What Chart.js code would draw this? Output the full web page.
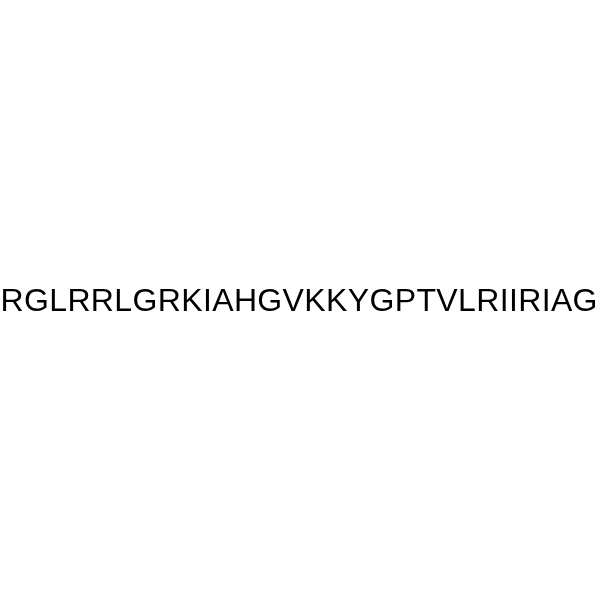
<!DOCTYPE html>
<html>
<head>
<meta charset="utf-8">
<script src="https://cdn.jsdelivr.net/npm/chart.js@4"></script>
<style>
  html, body { margin: 0; padding: 0; background: #fff; }
</style>
</head>
<body>
<canvas id="myChart" width="600" height="600"></canvas>
<script>
// peptide sequence, one residue per entry
const residues = ['R','G','L','R','R','L','G','R','K','I','A','H','G','V','K','K','Y','G','P','T','V','L','R','I','I','R','I','A','G'];

const ctx = document.getElementById('myChart');

// draws the sequence letter by letter across the middle, spread to fill the width
const sequenceLabel = {
  id: 'sequenceLabel',
  afterDraw(chart) {
    const c = chart.ctx;
    c.save();
    c.font = '32px "Liberation Sans", Arial, sans-serif';
    c.fillStyle = '#000';
    c.textBaseline = 'alphabetic';
    const total = c.measureText(residues.join('')).width;
    const gap = (597 - total) / (residues.length - 1);
    let x = 0.5;
    residues.forEach(r => {
      c.fillText(r, x, 311);
      x += c.measureText(r).width + gap;
    });
    c.restore();
  }
};

new Chart(ctx, {
  type: 'line',
  data: {
    labels: residues,
    datasets: [{ data: [], borderWidth: 0 }]
  },
  options: {
    responsive: false,
    animation: false,
    layout: { padding: 0 },
    plugins: { legend: { display: false }, tooltip: { enabled: false } },
    scales: { x: { display: false }, y: { display: false } }
  },
  plugins: [sequenceLabel]
});
</script>
</body>
</html>
